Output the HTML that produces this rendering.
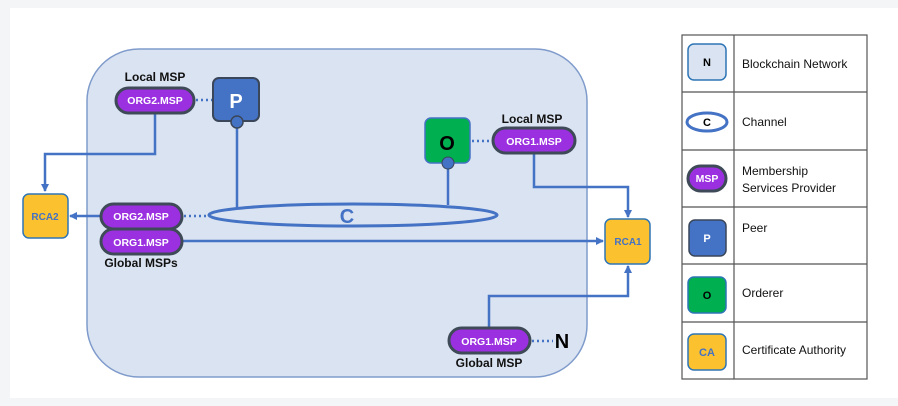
<!DOCTYPE html>
<html><head><meta charset="utf-8"><style>
html,body{margin:0;padding:0;background:#fff}
svg{display:block;font-family:"Liberation Sans",sans-serif}
</style></head><body>
<svg width="898" height="406" viewBox="0 0 898 406" xmlns="http://www.w3.org/2000/svg">
<defs>
<marker id="a" markerWidth="8" markerHeight="8" refX="7" refY="4" orient="auto" markerUnits="userSpaceOnUse">
<path d="M0,0 L8,4 L0,8 z" fill="#4472c4"/></marker>
</defs>
<rect x="0" y="0" width="898" height="406" fill="#fff"/>
<rect x="0" y="0" width="10" height="406" fill="#f4f5f7"/>
<rect x="0" y="0" width="898" height="8" fill="#f4f5f7"/>
<rect x="0" y="398" width="898" height="8" fill="#f4f5f7"/>
<!-- network -->
<rect x="87" y="49" width="500" height="328" rx="52" fill="#dae3f1" stroke="#7f9bcb" stroke-width="1.5"/>
<g fill="none" stroke="#4472c4" stroke-width="2.5">
<path d="M155,113 V154 H45 V191" marker-end="url(#a)"/>
<path d="M534,153 V187 H628 V217" marker-end="url(#a)"/>
<path d="M489,328 V296 H628 V266" marker-end="url(#a)"/>
<path d="M182,241 H603" marker-end="url(#a)"/>
<path d="M100,216 H70" marker-end="url(#a)"/>
<path d="M237,121 V207"/>
<path d="M448,163 V205"/>
<ellipse cx="353" cy="215" rx="144" ry="11" stroke-width="3"/>
</g>
<g stroke="#4472c4" stroke-width="2.5" stroke-dasharray="2,3">
<line x1="196" y1="100" x2="212" y2="100"/>
<line x1="472" y1="141" x2="491" y2="141"/>
<line x1="184" y1="216" x2="207" y2="216"/>
<line x1="532" y1="341" x2="553" y2="341"/>
</g>
<text x="347" y="223" font-size="20" font-weight="bold" fill="#4472c4" text-anchor="middle">C</text>
<!-- P -->
<rect x="213" y="78" width="46" height="43" rx="6" fill="#4472c4" stroke="#3a4659" stroke-width="2"/>
<text x="236" y="108" font-size="20" font-weight="bold" fill="#fff" text-anchor="middle">P</text>
<circle cx="237" cy="122" r="6" fill="#4472c4" stroke="#3a4659" stroke-width="1.5"/>
<!-- O -->
<rect x="425" y="118" width="45" height="45" rx="6" fill="#00b050" stroke="#4472c4" stroke-width="1.5"/>
<text x="447" y="150" font-size="20" font-weight="bold" fill="#000" text-anchor="middle">O</text>
<circle cx="448" cy="163" r="6" fill="#4472c4" stroke="#3a4659" stroke-width="1"/>
<!-- pills -->
<g stroke="#3f4a58" stroke-width="3" fill="#9b30e0">
<rect x="116" y="88" width="78" height="25" rx="12.5"/>
<rect x="493" y="128" width="82" height="25" rx="12.5"/>
<rect x="101" y="204" width="81" height="25" rx="12.5"/>
<rect x="101" y="229" width="81" height="25" rx="12.5"/>
<rect x="449" y="328" width="81" height="25" rx="12.5"/>
</g>
<g font-size="10.5" font-weight="bold" fill="#fff" text-anchor="middle">
<text x="155" y="104">ORG2.MSP</text>
<text x="534" y="145">ORG1.MSP</text>
<text x="141" y="220">ORG2.MSP</text>
<text x="141" y="246">ORG1.MSP</text>
<text x="489" y="345">ORG1.MSP</text>
</g>
<g font-size="12" font-weight="bold" fill="#111" text-anchor="middle">
<text x="155" y="81">Local MSP</text>
<text x="532" y="123">Local MSP</text>
<text x="141" y="267">Global MSPs</text>
<text x="489" y="367">Global MSP</text>
</g>
<text x="562" y="348" font-size="20" font-weight="bold" fill="#000" text-anchor="middle">N</text>
<!-- CAs -->
<rect x="23" y="194" width="45" height="44" rx="6" fill="#fcc12e" stroke="#2e75b6" stroke-width="1.5"/>
<text x="45" y="220" font-size="10" font-weight="bold" fill="#4472c4" text-anchor="middle">RCA2</text>
<rect x="605" y="219" width="45" height="45" rx="6" fill="#fcc12e" stroke="#2e75b6" stroke-width="1.5"/>
<text x="628" y="245" font-size="10" font-weight="bold" fill="#4472c4" text-anchor="middle">RCA1</text>
<!-- legend -->
<g stroke="#555" stroke-width="1.2" fill="none">
<rect x="682" y="35" width="185" height="344"/>
<line x1="734" y1="35" x2="734" y2="379"/>
<line x1="682" y1="92" x2="867" y2="92"/>
<line x1="682" y1="150" x2="867" y2="150"/>
<line x1="682" y1="207" x2="867" y2="207"/>
<line x1="682" y1="264" x2="867" y2="264"/>
<line x1="682" y1="322" x2="867" y2="322"/>
</g>
<rect x="688" y="44" width="38" height="36" rx="6" fill="#dae3f1" stroke="#2e75b6" stroke-width="1.5"/>
<text x="707" y="66" font-size="11" font-weight="bold" text-anchor="middle">N</text>
<ellipse cx="707" cy="122" rx="20" ry="9" fill="#fff" stroke="#4472c4" stroke-width="3"/>
<text x="707" y="126" font-size="11" font-weight="bold" text-anchor="middle">C</text>
<rect x="688" y="166" width="38" height="25" rx="12.5" fill="#9b30e0" stroke="#3f4a58" stroke-width="3"/>
<text x="707" y="182" font-size="10.5" font-weight="bold" fill="#fff" text-anchor="middle">MSP</text>
<rect x="689" y="220" width="37" height="36" rx="6" fill="#4472c4" stroke="#3a4659" stroke-width="1.5"/>
<text x="707" y="242" font-size="11" font-weight="bold" fill="#fff" text-anchor="middle">P</text>
<rect x="688" y="277" width="38" height="36" rx="6" fill="#00b050" stroke="#2e75b6" stroke-width="1.5"/>
<text x="707" y="299" font-size="11" font-weight="bold" text-anchor="middle">O</text>
<rect x="688" y="334" width="38" height="36" rx="6" fill="#fcc12e" stroke="#2e75b6" stroke-width="1.5"/>
<text x="707" y="356" font-size="11" font-weight="bold" fill="#4472c4" text-anchor="middle">CA</text>
<g font-size="12" fill="#111">
<text x="742" y="68">Blockchain Network</text>
<text x="742" y="126">Channel</text>
<text x="742" y="175">Membership</text>
<text x="742" y="192">Services Provider</text>
<text x="742" y="232">Peer</text>
<text x="742" y="297">Orderer</text>
<text x="742" y="354">Certificate Authority</text>
</g>
</svg>
</body></html>
